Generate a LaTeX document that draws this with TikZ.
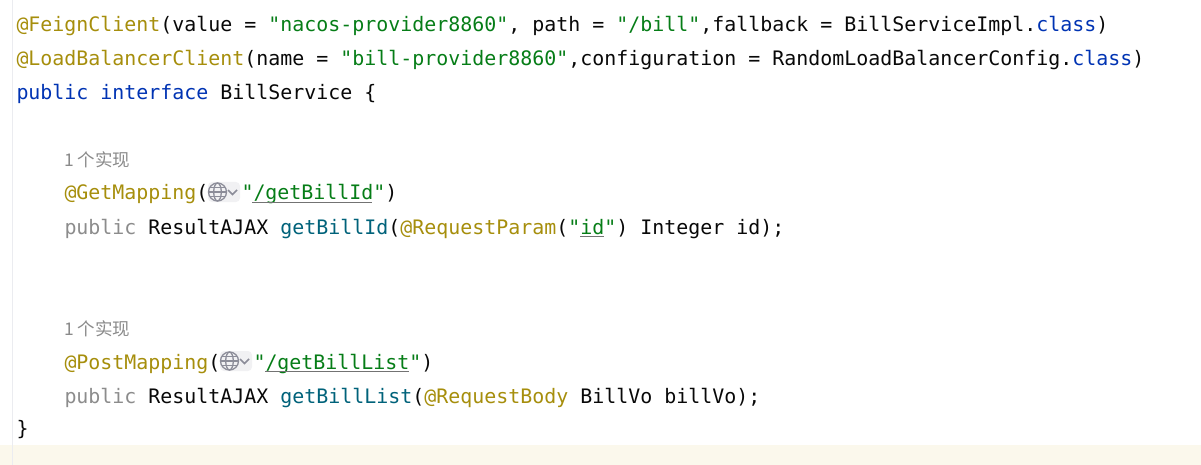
\documentclass[tikz,border=0pt]{standalone}
\usepackage{fontspec}
\newfontfamily\codefont[Ligatures=NoCommon]{DejaVu Sans Mono}
\newfontfamily\cjk{Noto Sans CJK SC}
\definecolor{annot}{HTML}{A68E0C}
\definecolor{strgreen}{HTML}{067D17}
\definecolor{kwblue}{HTML}{0033B3}
\definecolor{fnteal}{HTML}{00627A}
\definecolor{dimgrey}{HTML}{8C8C8C}
\definecolor{plainblack}{HTML}{080808}
\definecolor{hintgrey}{HTML}{8A8A8A}
\definecolor{iconbg}{HTML}{F1F1F3}
\definecolor{icongrey}{HTML}{8C8D99}
\definecolor{gutterline}{HTML}{EBECF0}
\definecolor{caretrow}{HTML}{FBF8EC}
\newcommand{\ann}[1]{\textcolor{annot}{#1}}
\newcommand{\strg}[1]{\textcolor{strgreen}{#1}}
\newcommand{\kw}[1]{\textcolor{kwblue}{#1}}
\newcommand{\fn}[1]{\textcolor{fnteal}{#1}}
\newcommand{\dimw}[1]{\textcolor{dimgrey}{#1}}
\tikzset{
  codeline/.style={anchor=base west,inner sep=0pt,outer sep=0pt,text=plainblack,font=\codefont\fontsize{19.93}{24}\selectfont},
  hintline/.style={anchor=base west,inner sep=0pt,outer sep=0pt,text=hintgrey,font=\cjk\fontsize{17.5}{20}\selectfont},
  linkline/.style={draw=black!55,line width=1pt},
  iconline/.style={draw=icongrey,line width=1.3pt}
}
\begin{document}
\begin{tikzpicture}[x=1pt,y=-1pt]
    \useasboundingbox (0,0) rectangle (1201,465);
    %Dòng con trỏ, lề
    \fill[caretrow] (0,445) rectangle (1201,465);
    \draw[gutterline,line width=1pt] (12.5,0)--(12.5,465);
    %Mã nguồn
    \node[codeline] (feign) at (16.5,31.5) {\ann{@FeignClient}(value = \strg{"nacos-provider8860"}, path = \strg{"/bill"},fallback = BillServiceImpl.\kw{class})};
    \node[codeline] (balancer) at (16.5,65.5) {\ann{@LoadBalancerClient}(name = \strg{"bill-provider8860"},configuration = RandomLoadBalancerConfig.\kw{class})};
    \node[codeline] (iface) at (16.5,99.5) {\kw{public interface} BillService \{};
    \node[hintline] (hintget) at (64,166.5) {1 个实现};
    \node[codeline] (getmap) at (64.5,200) {\ann{@GetMapping}(};
    \node[codeline] (getpath) at (241.5,200) {\strg{"/getBillId"})};
    \node[codeline] (getmethod) at (64.5,234.5) {\dimw{public} ResultAJAX \fn{getBillId}(\ann{@RequestParam}(\strg{"id"}) Integer id);};
    \node[hintline] (hintpost) at (64,335.5) {1 个实现};
    \node[codeline] (postmap) at (64.5,369) {\ann{@PostMapping}(};
    \node[codeline] (postpath) at (253.5,369) {\strg{"/getBillList"})};
    \node[codeline] (postmethod) at (64.5,403.5) {\dimw{public} ResultAJAX \fn{getBillList}(\ann{@RequestBody} BillVo billVo);};
    \node[codeline] (closing) at (16.5,435.5) {\}};
    %Gạch chân liên kết
    \draw[linkline] (252,202.5)--(372,202.5);
    \draw[linkline] (580,236.5)--(604,236.5);
    \draw[linkline] (265,371.5)--(409,371.5);
    %Biểu tượng quả cầu
    \foreach \gx/\gy in{217.5/192, 229.5/361}{
      \fill[iconbg,rounded corners=4pt] (\gx-9.5,\gy-10) rectangle (\gx+22.5,\gy+10);
      \draw[iconline] (\gx,\gy) circle (9pt);
      \draw[iconline] (\gx,\gy) ellipse (3.8pt and 9pt);
      \draw[iconline] (\gx-9,\gy)--(\gx+9,\gy);
      \draw[iconline,line width=1pt] (\gx-7.8,\gy-4.3)--(\gx+7.8,\gy-4.3);
      \draw[iconline,line width=1pt] (\gx-7.8,\gy+4.3)--(\gx+7.8,\gy+4.3);
      \draw[iconline,line width=1.5pt] (\gx+10.5,\gy-2)--(\gx+15,\gy+2.5)--(\gx+19.5,\gy-2);
    }
\end{tikzpicture}
\end{document}
